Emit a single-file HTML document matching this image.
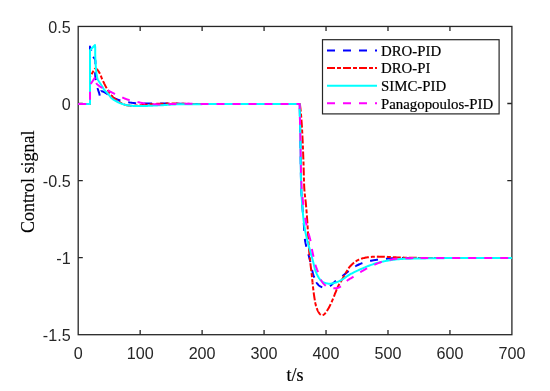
<!DOCTYPE html>
<html><head><meta charset="utf-8"><style>
html,body{margin:0;padding:0;background:#fff;}
svg{display:block;}
.tk{font-family:"Liberation Sans",Arial,sans-serif;font-size:15.7px;fill:#262626;}
.sf{font-family:"Liberation Serif","Times New Roman",serif;fill:#000;stroke:#000;stroke-width:0.18px;}
</style></head><body>
<svg width="550" height="391" viewBox="0 0 550 391">
<rect x="0" y="0" width="550" height="391" fill="#fff"/>
<g fill="none" stroke="#262626" stroke-width="1.3">
<rect x="78.2" y="26.45" width="433.70" height="308.25"/>
<path d="M140.16 334.70 V330.10 M140.16 26.45 V31.05 M202.11 334.70 V330.10 M202.11 26.45 V31.05 M264.07 334.70 V330.10 M264.07 26.45 V31.05 M326.03 334.70 V330.10 M326.03 26.45 V31.05 M387.99 334.70 V330.10 M387.99 26.45 V31.05 M449.94 334.70 V330.10 M449.94 26.45 V31.05 M78.20 103.51 H82.80 M511.90 103.51 H507.30 M78.20 180.57 H82.80 M511.90 180.57 H507.30 M78.20 257.64 H82.80 M511.90 257.64 H507.30"/>
</g>
<g fill="none" stroke-width="2" stroke-linejoin="round">
<path d="M78.20 104.00 L90.00 104.00 L90.00 46.60 L90.08 46.85 L90.17 47.10 L90.26 47.35" stroke="#0000ff" stroke-dasharray="8 8" stroke-dashoffset="0.00"/>
<path d="M90.26 47.35 L90.34 47.60 L90.43 47.85 L90.52 48.10 L90.60 48.35 L90.69 48.60 L90.77 48.85 L90.85 49.10 L90.93 49.35 L91.00 49.60 L91.07 49.85 L91.13 50.10 L91.19 50.35 L91.25 50.60 L91.31 50.85 L91.37 51.10 L91.42 51.36 L91.48 51.61 L91.53 51.86 L91.59 52.11 L91.64 52.35 L91.70 52.60 L91.76 52.84 L91.81 53.08 L91.86 53.32 L91.91 53.57 L91.96 53.81 L92.02 54.05 L92.07 54.29 L92.13 54.52 L92.19 54.75 L92.25 54.98" stroke="#0000ff" stroke-dasharray="8 8" stroke-dashoffset="4.49"/>
<path d="M92.25 54.98 L92.32 55.19 L92.40 55.40 L92.47 55.57 L92.54 55.73 L92.62 55.89 L92.70 56.05 L92.78 56.20 L92.86 56.35 L92.94 56.50 L93.03 56.64 L93.12 56.79 L93.21 56.93 L93.31 57.06 L93.40 57.20 L93.49 57.33 L93.59 57.45 L93.69 57.56 L93.80 57.67 L93.91 57.78 L94.02 57.89 L94.12 58.00 L94.23 58.11 L94.33 58.23 L94.43 58.35 L94.52 58.47 L94.60 58.60 L94.68 58.74 L94.76 58.88 L94.83 59.03 L94.90 59.18 L94.96 59.33 L95.02 59.48 L95.08 59.64 L95.13 59.80 L95.18 59.97 L95.22 60.14 L95.26 60.32 L95.30 60.50 L95.34 60.75 L95.37 61.01 L95.40 61.29 L95.41 61.57 L95.42 61.87 L95.43 62.16 L95.43 62.47 L95.42 62.77 L95.42 63.08 L95.41 63.39 L95.40 63.70 L95.40 64.00 L95.39 64.33 L95.38 64.66 L95.37 64.99 L95.35 65.33 L95.33 65.68 L95.31 66.02 L95.29 66.36 L95.27 66.70 L95.25 67.03 L95.23 67.36 L95.21 67.69 L95.20 68.00 L95.19 68.26 L95.18 68.52 L95.17 68.76 L95.15 69.00 L95.14 69.24 L95.13 69.48 L95.12 69.72 L95.11 69.96 L95.11 70.21 L95.10 70.46 L95.10 70.72 L95.10 71.00 L95.10 71.37 L95.11 71.76 L95.11 72.16 L95.12 72.57 L95.14 72.99 L95.15 73.42 L95.17 73.85 L95.19 74.29 L95.21 74.72 L95.24 75.15 L95.27 75.58 L95.30 76.00 L95.33 76.42 L95.37 76.83 L95.41 77.25 L95.45 77.67 L95.50 78.08 L95.55 78.50 L95.60 78.91 L95.65 79.33 L95.71 79.75 L95.77 80.16 L95.83 80.58 L95.90 81.00 L95.97 81.43 L96.05 81.87 L96.13 82.30 L96.22 82.74 L96.30 83.18 L96.40 83.62 L96.49 84.06 L96.59 84.49 L96.69 84.92 L96.79 85.35 L96.89 85.78 L97.00 86.20 L97.11 86.60 L97.22 87.00 L97.33 87.39 L97.45 87.79 L97.57 88.18 L97.69 88.57 L97.81 88.96 L97.94 89.34 L98.06 89.72 L98.18 90.09 L98.29 90.45 L98.40 90.80 L98.49 91.09 L98.58 91.37 L98.67 91.65 L98.76 91.92 L98.85 92.18 L98.93 92.45 L99.02 92.71 L99.10 92.97 L99.18 93.23 L99.26 93.48 L99.33 93.74 L99.40 94.00 L99.46 94.26 L99.52 94.54 L99.57 94.84 L99.63 95.15 L99.68 95.46 L99.73 95.76 L99.77 96.04 L99.82 96.29 L99.86 96.50 L99.91 96.66 L99.95 96.76 L100.00 96.80 L100.05 96.76 L100.09 96.66 L100.13 96.49 L100.18 96.28 L100.22 96.03 L100.26 95.75 L100.30 95.45" stroke="#0000ff" stroke-dasharray="8 8" stroke-dashoffset="13.88"/>
<path d="M100.30 95.45 L100.34 95.14 L100.38 94.83 L100.42 94.53 L100.46 94.25 L100.50 94.00 L100.53 93.76 L100.55 93.51 L100.55 93.25 L100.56 92.98 L100.56 92.71 L100.57 92.45 L100.58 92.20 L100.61 91.96 L100.65 91.75 L100.71 91.56 L100.79 91.41 L100.90 91.30 L101.03 91.23 L101.19 91.19 L101.36 91.18 L101.55 91.19 L101.76 91.22 L101.97 91.26 L102.19 91.32 L102.42 91.39 L102.65 91.47 L102.87 91.55 L103.09 91.62 L103.30 91.70 L103.54 91.79 L103.79 91.90 L104.03 92.02 L104.28 92.15 L104.53 92.29 L104.77 92.44 L105.02 92.60 L105.28 92.75 L105.53 92.92 L105.78 93.08 L106.04 93.24 L106.30 93.40 L106.60 93.58 L106.89 93.77 L107.19 93.97 L107.49 94.17 L107.80 94.37 L108.10 94.57" stroke="#0000ff" stroke-dasharray="8 8" stroke-dashoffset="11.83"/>
<path d="M108.10 94.57 L108.41 94.78 L108.72 94.99 L109.04 95.19 L109.35 95.40 L109.67 95.60 L110.00 95.80 L110.36 96.01 L110.71 96.23 L111.08 96.44 L111.45 96.66 L111.82 96.88 L112.19 97.09 L112.57 97.30 L112.95 97.51 L113.33 97.72 L113.72 97.92 L114.11 98.11 L114.50 98.30 L114.91 98.49 L115.33 98.68 L115.75 98.86 L116.18 99.04 L116.61 99.21 L117.04 99.38 L117.47 99.55 L117.90 99.71 L118.33 99.86 L118.76 100.01 L119.18 100.16 L119.60 100.30 L119.97 100.42 L120.35 100.54 L120.72 100.65 L121.08 100.76 L121.45 100.86 L121.81 100.96 L122.18 101.06 L122.54 101.15 L122.90 101.24 L123.27 101.33 L123.63 101.42 L124.00 101.50 L124.36 101.58 L124.72 101.66 L125.07 101.73 L125.42 101.80 L125.77 101.86 L126.13 101.93 L126.49 101.99 L126.85 102.05 L127.22 102.11 L127.60 102.18 L127.99 102.24 L128.40 102.30 L128.93 102.38 L129.49 102.46 L130.05 102.55 L130.63 102.63 L131.22 102.71 L131.83 102.79 L132.44 102.87 L133.06 102.94 L133.69 103.01 L134.32 103.08 L134.96 103.14 L135.60 103.20 L136.33 103.26 L137.07 103.31 L137.81 103.36 L138.56 103.40 L139.32 103.44 L140.08 103.47 L140.86 103.50 L141.66 103.53 L142.47 103.55 L143.29 103.57 L144.14 103.59 L145.00 103.60 L146.10 103.61 L147.21 103.61 L148.34 103.60 L149.47 103.58 L150.64 103.55 L151.83 103.52 L153.06 103.49 L154.34 103.46 L155.66 103.44 L157.04 103.42 L158.49 103.40 L160.00 103.40 L162.66 103.41 L165.55 103.44 L168.65 103.48 L171.91 103.54 L175.30 103.60 L178.80 103.67 L182.36 103.73 L185.95 103.80 L189.55 103.87 L193.11 103.92 L196.61 103.97 L200.00 104.00 L203.33 104.02 L206.67 104.03 L210.00 104.04 L213.33 104.04 L216.67 104.04 L220.00 104.04 L223.33 104.03 L226.67 104.02 L230.00 104.01 L233.33 104.01 L236.67 104.00 L240.00 104.00 L299.60 104.00 L299.65 106.13 L299.70 108.21 L299.75 110.25 L299.80 112.27 L299.85 114.29 L299.89 116.33 L299.94 118.41 L299.99 120.54 L300.04 122.75 L300.09 125.05 L300.15 127.46 L300.20 130.00 L300.28 134.25 L300.36 138.99 L300.43 144.12 L300.50 149.53 L300.58 155.10 L300.66 160.75 L300.74 166.35 L300.83 171.80 L300.93 177.00 L301.04 181.84 L301.16 186.20 L301.30 190.00 L301.38 191.79 L301.46 193.45 L301.54 195.02 L301.63 196.50 L301.72 197.91 L301.81 199.25 L301.91 200.56 L302.00 201.84 L302.10 203.11 L302.20 204.38 L302.30 205.67 L302.40 207.00 L302.49 208.22 L302.59 209.44 L302.70 210.65 L302.80 211.85 L302.91 213.05 L303.01 214.23" stroke="#0000ff" stroke-dasharray="8 8" stroke-dashoffset="10.27"/>
<path d="M303.01 214.23 L303.12 215.40 L303.22 216.56 L303.32 217.70 L303.42 218.82 L303.51 219.92 L303.60 221.00 L303.67 221.89 L303.73 222.77 L303.79 223.63 L303.85 224.48 L303.91 225.31 L303.97 226.14 L304.02 226.96 L304.07 227.77 L304.13 228.58 L304.18 229.38 L304.24 230.19 L304.30 231.00 L304.35 231.77 L304.40 232.54 L304.45 233.31 L304.50 234.08 L304.54 234.84 L304.59 235.60 L304.64 236.36 L304.70 237.11 L304.76 237.85 L304.83 238.57 L304.91 239.29 L305.00 240.00 L305.09 240.62 L305.19 241.22 L305.29 241.82 L305.39 242.41 L305.51 242.99 L305.62 243.56 L305.75 244.14 L305.87 244.71 L306.00 245.28 L306.13 245.85 L306.26 246.42 L306.40 247.00 L306.54 247.59 L306.69 248.17 L306.84 248.75 L307.00 249.34 L307.16 249.92 L307.33 250.50 L307.49 251.09 L307.66 251.67 L307.82 252.25 L307.98 252.83 L308.14 253.42 L308.30 254.00 L308.45 254.58 L308.61 255.17 L308.76 255.76 L308.92 256.35 L309.07 256.94 L309.22 257.53 L309.38 258.12 L309.53 258.70 L309.67 259.29 L309.82 259.86 L309.96 260.43 L310.10 261.00 L310.23 261.52 L310.35 262.03 L310.47 262.54 L310.59 263.04 L310.71 263.54 L310.82 264.04 L310.94 264.54 L311.05 265.04 L311.17 265.53 L311.28 266.02 L311.39 266.51 L311.50 267.00 L311.60 267.47 L311.70 267.93 L311.80 268.40 L311.89 268.86 L311.99 269.32 L312.08 269.78 L312.17 270.24 L312.27 270.70 L312.37 271.15 L312.47 271.60 L312.58 272.05 L312.70 272.50 L312.82 272.93 L312.94 273.35 L313.06 273.78 L313.19 274.20 L313.31 274.62 L313.45 275.03 L313.58 275.45 L313.72 275.86 L313.86 276.27 L314.00 276.68 L314.15 277.09 L314.30 277.50 L314.45 277.90 L314.60 278.31 L314.75 278.72 L314.90 279.13 L315.05 279.53" stroke="#0000ff" stroke-dasharray="8 8" stroke-dashoffset="7.37"/>
<path d="M315.05 279.53 L315.21 279.94 L315.37 280.33 L315.54 280.73 L315.72 281.11 L315.90 281.49 L316.10 281.85 L316.30 282.20 L316.49 282.51 L316.69 282.82 L316.90 283.13 L317.12 283.43 L317.33 283.72 L317.56 284.01 L317.79 284.28 L318.02 284.55 L318.26 284.81 L318.50 285.05 L318.75 285.28 L319.00 285.50 L319.22 285.68 L319.45 285.85 L319.68 286.01 L319.91 286.16 L320.15 286.31 L320.39 286.45 L320.63 286.57 L320.88 286.69 L321.13 286.81 L321.38 286.91 L321.64 287.01 L321.90 287.10 L322.18 287.19 L322.46 287.27 L322.75 287.35 L323.05 287.42 L323.35 287.48 L323.65 287.53 L323.96 287.57 L324.26 287.60 L324.57 287.62 L324.88 287.63 L325.19 287.62 L325.50 287.60 L325.84 287.56 L326.19 287.51 L326.53 287.44 L326.88 287.36 L327.23 287.26 L327.58 287.15 L327.94 287.03 L328.29 286.89 L328.64 286.74 L329.00 286.57 L329.35 286.39 L329.70 286.20 L330.14 285.93 L330.57 285.62 L331.00 285.28 L331.43 284.91 L331.85 284.52 L332.28 284.11 L332.72 283.69 L333.15 283.27 L333.60 282.84 L334.06 282.42 L334.52 282.00 L335.00 281.60 L335.58 281.14 L336.18 280.66 L336.81 280.18 L337.46 279.69 L338.12 279.19 L338.78 278.70 L339.43 278.22 L340.08 277.74 L340.70 277.28 L341.30 276.83 L341.87 276.40 L342.40 276.00 L342.74 275.74 L343.07 275.49 L343.38 275.25 L343.68 275.02 L343.96 274.79 L344.25 274.57 L344.53 274.36 L344.81 274.14 L345.09 273.92 L345.38 273.69 L345.68 273.45 L346.00 273.20 L346.39 272.89 L346.78 272.57 L347.19 272.24 L347.60 271.90 L348.02 271.55 L348.44 271.20 L348.86 270.86 L349.29 270.51 L349.72 270.17 L350.15 269.84 L350.57 269.51 L351.00 269.20 L351.41 268.91 L351.82 268.62 L352.22 268.34 L352.63 268.07 L353.04 267.79 L353.45 267.53 L353.86 267.26 L354.28 267.00 L354.70 266.75 L355.13 266.50 L355.56 266.25 L356.00 266.00 L356.47 265.74 L356.94 265.49 L357.42 265.24 L357.91 264.99 L358.39 264.75 L358.89 264.51 L359.39 264.28 L359.89 264.05 L360.41 263.83 L360.93 263.61 L361.46 263.40 L362.00 263.20 L362.62 262.98 L363.25 262.77 L363.90 262.56 L364.56 262.36 L365.23 262.17 L365.91 261.99 L366.59 261.81 L367.28 261.64 L367.96 261.47 L368.65 261.31 L369.33 261.15 L370.00 261.00 L370.66 260.85 L371.31 260.72 L371.96 260.59 L372.61 260.46 L373.26 260.34 L373.91 260.23 L374.57 260.11 L375.23 260.01 L375.91 259.90 L376.59 259.80 L377.29 259.70 L378.00 259.60 L378.85 259.49 L379.73 259.37 L380.62 259.27 L381.53 259.16 L382.45 259.06 L383.39 258.97 L384.32 258.88 L385.27 258.79 L386.21 258.71 L387.14 258.63 L388.08 258.56 L389.00 258.50 L389.91 258.44 L390.79 258.40 L391.67 258.36 L392.54 258.32 L393.42 258.29 L394.29 258.27 L395.18 258.24 L396.09 258.22 L397.02 258.21 L397.98 258.19 L398.97 258.17 L400.00 258.15 L401.45 258.12 L402.94 258.10 L404.49 258.08 L406.08 258.07 L407.71 258.05 L409.38 258.04 L411.08 258.03 L412.81 258.03 L414.58 258.02 L416.36 258.01 L418.17 258.01 L420.00 258.00 L422.29 257.99 L424.65 257.99 L427.07 257.99 L429.55 257.99 L432.07 257.99 L434.62 257.99 L437.19 257.99 L439.78 257.99 L442.36 258.00 L444.93 258.00 L447.48 258.00 L450.00 258.00 L511.90 258.00" stroke="#0000ff" stroke-dasharray="8 8" stroke-dashoffset="13.05"/>
<path d="M78.20 104.00 L90.00 104.00 L90.00 77.00 L94.60 68.90 L94.68 68.88 L94.77 68.86 L94.85 68.84 L94.93 68.81 L95.01 68.79 L95.10 68.76 L95.18 68.74 L95.26 68.72 L95.35 68.71 L95.43 68.70 L95.51 68.70 L95.60 68.70 L95.70 68.71 L95.80 68.73 L95.90 68.76 L96.00 68.79 L96.10 68.82 L96.20 68.86 L96.30 68.91 L96.40 68.96 L96.50 69.01 L96.60 69.07 L96.70 69.13 L96.80 69.20 L96.92 69.29 L97.04 69.40 L97.16 69.51 L97.28 69.63 L97.39 69.76 L97.51 69.89 L97.62 70.03 L97.74 70.18 L97.85 70.33 L97.97 70.48 L98.08 70.64 L98.20 70.80 L98.35 71.01 L98.50 71.23 L98.65 71.45 L98.81 71.69 L98.96 71.93 L99.11 72.18 L99.26 72.43 L99.41 72.69 L99.56 72.96 L99.71 73.23 L99.86 73.51 L100.00 73.80 L100.18 74.17 L100.35 74.56 L100.51 74.96 L100.68 75.38 L100.84 75.81 L101.01 76.24 L101.17 76.68 L101.33 77.12 L101.49 77.55 L101.66 77.98 L101.83 78.40 L102.00 78.80 L102.16 79.17 L102.32 79.53 L102.49 79.88 L102.66 80.24 L102.82 80.59 L102.99 80.93 L103.16 81.28 L103.33 81.62 L103.49 81.97 L103.66 82.31 L103.83 82.66 L104.00 83.00 L104.16 83.34 L104.33 83.68 L104.49 84.02 L104.66 84.35 L104.83 84.69 L104.99 85.03 L105.16 85.36 L105.32 85.69 L105.49 86.03 L105.66 86.35 L105.83 86.68 L106.00 87.00 L106.16 87.30 L106.33 87.60 L106.49 87.90 L106.65 88.20 L106.82 88.50 L106.99 88.79 L107.15 89.08 L107.32 89.37 L107.49 89.66 L107.66 89.94 L107.83 90.22 L108.00 90.50 L108.16 90.76 L108.32 91.02 L108.48 91.27 L108.64 91.53 L108.81 91.78 L108.97 92.03 L109.13 92.27 L109.30 92.52 L109.47 92.77 L109.64 93.01 L109.82 93.25 L110.00 93.50 L110.19 93.76 L110.39 94.01 L110.59 94.27 L110.79 94.53 L111.00 94.79 L111.21 95.04 L111.42 95.30 L111.64 95.55 L111.85 95.79 L112.07 96.03 L112.28 96.27 L112.50 96.50 L112.70 96.71 L112.90 96.91 L113.11 97.11 L113.31 97.31 L113.51 97.50 L113.72 97.69 L113.92 97.88 L114.13 98.07 L114.35 98.25 L114.56 98.43 L114.78 98.62 L115.00 98.80 L115.23 98.99 L115.47 99.18 L115.71 99.36 L115.95 99.55 L116.20 99.73 L116.44 99.91 L116.69 100.09 L116.95 100.27 L117.20 100.45 L117.47 100.63 L117.73 100.82 L118.00 101.00 L118.31 101.21 L118.63 101.43 L118.95 101.64 L119.28 101.86 L119.61 102.08 L119.95 102.30 L120.29 102.52 L120.63 102.73 L120.97 102.93 L121.31 103.13 L121.66 103.32 L122.00 103.50 L122.32 103.66 L122.65 103.82 L122.96 103.98 L123.28 104.13 L123.60 104.27 L123.93 104.41 L124.25 104.54 L124.59 104.67 L124.93 104.79 L125.27 104.90 L125.63 105.00 L126.00 105.10 L126.45 105.20 L126.91 105.29 L127.38 105.37 L127.87 105.44 L128.36 105.49 L128.86 105.54 L129.37 105.58 L129.88 105.62 L130.41 105.64 L130.93 105.67 L131.47 105.69 L132.00 105.70 L132.62 105.71 L133.26 105.71 L133.90 105.69 L134.55 105.67 L135.21 105.64 L135.87 105.60 L136.55 105.56 L137.23 105.51 L137.91 105.46 L138.60 105.41 L139.30 105.35 L140.00 105.30 L140.79 105.24 L141.58 105.16 L142.37 105.08 L143.18 105.00 L143.99 104.91 L144.80 104.81 L145.63 104.72 L146.47 104.63 L147.33 104.54 L148.20 104.45 L149.09 104.37 L150.00 104.30 L151.12 104.22 L152.25 104.14 L153.39 104.07 L154.54 104.00 L155.72 103.93 L156.92 103.87 L158.15 103.81 L159.42 103.76 L160.74 103.71 L162.10 103.67 L163.52 103.63 L165.00 103.60 L167.40 103.57 L169.96 103.57 L172.67 103.58 L175.50 103.62 L178.43 103.66 L181.44 103.71 L184.51 103.77 L187.62 103.83 L190.74 103.89 L193.86 103.94 L196.95 103.97 L200.00 104.00" stroke="#ff0000" stroke-dasharray="8 2 4 2" stroke-dashoffset="0.00"/>
<path d="M200.00 104.00 L203.24 104.02 L206.51 104.03 L209.81 104.03 L213.14 104.03 L216.48 104.03 L219.83 104.03 L223.20 104.02 L226.57 104.02 L229.94 104.01 L233.30 104.01 L236.66 104.00 L240.00 104.00 L299.90 104.00 L299.98 104.66 L300.05 105.30 L300.13 105.92 L300.20 106.55 L300.28 107.17 L300.35 107.80 L300.43 108.44 L300.50 109.09 L300.58 109.77 L300.65 110.48 L300.73 111.22 L300.80 112.00 L300.91 113.23 L301.02 114.53 L301.13 115.88 L301.25 117.30 L301.36 118.76 L301.47 120.26 L301.58 121.81 L301.69 123.39 L301.79 125.01 L301.90 126.65 L302.00 128.32 L302.10 130.00 L302.22 132.23 L302.34 134.56 L302.46 136.96 L302.58 139.43 L302.69 141.96 L302.80 144.52 L302.90 147.11 L303.00 149.72 L303.11 152.32 L303.21 154.91 L303.30 157.48 L303.40 160.00 L303.49 162.54 L303.57 165.14 L303.64 167.79 L303.71 170.46 L303.77 173.13 L303.83 175.78 L303.90 178.38 L303.98 180.92 L304.06 183.37 L304.16 185.72 L304.27 187.93 L304.40 190.00 L304.50 191.27 L304.60 192.46 L304.71 193.59 L304.83 194.67 L304.95 195.71 L305.07 196.73 L305.20 197.73 L305.32 198.74 L305.45 199.75 L305.57 200.79 L305.69 201.87 L305.80 203.00 L305.92 204.33 L306.05 205.68 L306.17 207.06 L306.29 208.45 L306.41 209.85 L306.53 211.27 L306.65 212.70 L306.76 214.15 L306.87 215.60 L306.99 217.06 L307.09 218.53 L307.20 220.00 L307.31 221.62 L307.42 223.27 L307.52 224.95 L307.62 226.65 L307.72 228.36 L307.82 230.08 L307.91 231.79 L308.01 233.49 L308.10 235.16 L308.20 236.81 L308.30 238.43 L308.40 240.00 L308.49 241.33 L308.58 242.65 L308.66 243.96 L308.75 245.25 L308.84 246.52 L308.93 247.78 L309.02 249.03 L309.11 250.25 L309.20 251.47 L309.30 252.66 L309.40 253.84 L309.50 255.00 L309.59 255.98 L309.69 256.94 L309.78 257.88 L309.88 258.81 L309.98 259.73 L310.08 260.64 L310.18 261.54 L310.29 262.44 L310.39 263.33 L310.49 264.22 L310.60 265.11 L310.70 266.00 L310.80 266.85 L310.90 267.69 L311.00 268.53 L311.10 269.37 L311.21 270.20 L311.31 271.03 L311.41 271.86 L311.51 272.68 L311.61 273.51 L311.71 274.34 L311.81 275.17 L311.90 276.00 L311.99 276.83 L312.07 277.66 L312.16 278.49 L312.24 279.32 L312.31 280.14 L312.39 280.97 L312.47 281.80 L312.55 282.63" stroke="#ff0000" stroke-dasharray="8 2 4 2" stroke-dashoffset="12.44"/>
<path d="M312.55 282.63 L312.63 283.47 L312.72 284.31 L312.81 285.15 L312.90 286.00 L313.00 286.90 L313.11 287.82 L313.21 288.74 L313.32 289.67 L313.43 290.60 L313.54 291.53 L313.66 292.46 L313.78 293.39 L313.90 294.31 L314.03 295.22 L314.16 296.12 L314.30 297.00 L314.43 297.81 L314.55 298.62 L314.68 299.43 L314.81 300.24 L314.94 301.03 L315.07 301.83 L315.21 302.61 L315.37 303.38 L315.53 304.13 L315.70 304.87 L315.89 305.60 L316.10 306.30 L316.29 306.90 L316.49 307.49 L316.69 308.08 L316.91 308.66 L317.13 309.24 L317.36 309.80 L317.59 310.34 L317.84 310.87 L318.09 311.37 L318.35 311.84 L318.62 312.29 L318.90 312.70 L319.11 312.99 L319.33 313.29 L319.55 313.58 L319.78 313.86 L320.01 314.13 L320.24 314.38 L320.48 314.61 L320.72 314.81 L320.97 314.99 L321.21 315.13 L321.45 315.24 L321.70 315.30 L321.92 315.32 L322.14 315.31 L322.36 315.27 L322.59 315.21 L322.82 315.13 L323.04 315.02 L323.27 314.90 L323.50 314.76 L323.73 314.61 L323.96 314.45 L324.18 314.28 L324.40 314.10 L324.72 313.82 L325.04 313.49 L325.36 313.13 L325.67 312.74 L325.98 312.32 L326.29 311.87 L326.60 311.41 L326.91 310.94 L327.21 310.45 L327.51 309.97 L327.81 309.48 L328.10 309.00 L328.43 308.45 L328.75 307.89 L329.07 307.31 L329.39 306.72 L329.70 306.12 L330.00 305.51 L330.31 304.89 L330.61 304.27 L330.91 303.63 L331.21 302.99 L331.50 302.35 L331.80 301.70 L332.12 300.97 L332.44 300.22 L332.76 299.46 L333.07 298.68 L333.38 297.89 L333.69 297.10 L334.00 296.30 L334.30 295.52 L334.60 294.74 L334.90 293.97 L335.20 293.23 L335.50 292.50 L335.76 291.88 L336.00 291.27 L336.24 290.67 L336.48 290.08 L336.72 289.49 L336.96 288.91 L337.20 288.33 L337.44 287.76 L337.69 287.19 L337.95 286.63 L338.22 286.06 L338.50 285.50 L338.79 284.94 L339.10 284.39 L339.42 283.84 L339.74 283.30 L340.07 282.76 L340.41 282.22 L340.75 281.69 L341.09 281.15 L341.42 280.62 L341.75 280.08 L342.08 279.54 L342.40 279.00 L342.71 278.46 L343.01 277.92 L343.31 277.37 L343.60 276.82 L343.89 276.28 L344.19 275.73 L344.48 275.18 L344.78 274.64 L345.07 274.10 L345.38 273.56 L345.68 273.03 L346.00 272.50 L346.31 271.98 L346.62 271.47 L346.93 270.95 L347.23 270.44 L347.54 269.93 L347.86 269.42 L348.18 268.92 L348.51 268.42 L348.86 267.93 L349.22 267.44 L349.60 266.97 L350.00 266.50 L350.46 266.00 L350.93 265.49 L351.43 264.99 L351.95 264.49 L352.48 264.00 L353.03 263.52 L353.58 263.05 L354.14 262.60 L354.71 262.17 L355.27 261.75 L355.84 261.36 L356.40 261.00 L356.90 260.70 L357.40 260.41 L357.90 260.14 L358.40 259.89 L358.90 259.66 L359.41 259.43 L359.92 259.22 L360.45 259.02 L360.99 258.83 L361.54 258.65 L362.11 258.47 L362.70 258.30 L363.45 258.10 L364.24 257.92 L365.06 257.75 L365.90 257.60 L366.75 257.46 L367.63 257.34 L368.51 257.22 L369.40 257.12 L370.28 257.03 L371.17 256.95 L372.04 256.87 L372.90 256.80 L373.75 256.74 L374.59 256.70 L375.43 256.66 L376.28 256.64 L377.12 256.63 L377.96 256.62 L378.81 256.63 L379.66 256.63 L380.51 256.65 L381.37 256.66 L382.23 256.68 L383.10 256.70 L384.02 256.73 L384.94 256.76 L385.86 256.80 L386.79 256.85 L387.72 256.91 L388.65 256.97 L389.59 257.03 L390.55 257.09 L391.51 257.15 L392.49 257.20 L393.49 257.25 L394.50 257.30 L395.70 257.35 L396.92 257.39 L398.16 257.44 L399.42 257.48 L400.69 257.52 L401.98 257.56 L403.28 257.59 L404.60 257.63 L405.93 257.66 L407.27 257.69 L408.63 257.72 L410.00 257.75 L411.56 257.78 L413.14 257.81 L414.73 257.84 L416.33 257.86 L417.95 257.89 L419.59 257.91 L421.25 257.93 L422.94 257.94 L424.66 257.96 L426.40 257.97 L428.18 257.99 L430.00 258.00 L432.29 258.01 L434.65 258.02 L437.07 258.02 L439.55 258.02 L442.07 258.02 L444.62 258.02 L447.19 258.02 L449.78 258.01 L452.36 258.01 L454.93 258.00 L457.48 258.00 L460.00 258.00 L511.90 258.00" stroke="#ff0000" stroke-dasharray="8 2 4 2" stroke-dashoffset="6.18"/>
<path d="M78.20 104.00 L90.00 104.00 L90.00 50.20 L95.00 45.00 L95.02 45.25 L95.04 45.49 L95.05 45.73 L95.07 45.96 L95.09 46.20 L95.11 46.44 L95.13 46.68 L95.15 46.92 L95.16 47.18 L95.18 47.44 L95.19 47.71 L95.20 48.00 L95.21 48.43 L95.22 48.87 L95.22 49.33 L95.22 49.82 L95.21 50.31 L95.21 50.82 L95.20 51.33 L95.19 51.86 L95.19 52.39 L95.19 52.93 L95.19 53.46 L95.20 54.00 L95.21 54.63 L95.23 55.27 L95.25 55.92 L95.27 56.58 L95.29 57.25 L95.31 57.93 L95.34 58.61 L95.37 59.29 L95.40 59.97 L95.43 60.65 L95.46 61.33 L95.50 62.00 L95.54 62.67 L95.58 63.35 L95.62 64.03 L95.67 64.71 L95.71 65.39 L95.76 66.07 L95.81 66.75 L95.86 67.42 L95.92 68.08 L95.98 68.73 L96.04 69.37 L96.10 70.00 L96.16 70.54 L96.21 71.07 L96.27 71.59 L96.32 72.11 L96.38 72.63 L96.44 73.14 L96.50 73.64 L96.57 74.13 L96.64 74.61 L96.72 75.09 L96.81 75.55 L96.90 76.00 L96.98 76.37 L97.06 76.73 L97.15 77.09 L97.24 77.44 L97.33 77.79 L97.43 78.13 L97.53 78.46 L97.63 78.79 L97.74 79.10 L97.85 79.41 L97.97 79.71 L98.10 80.00 L98.21 80.23 L98.32 80.44 L98.43 80.64 L98.55 80.84 L98.67 81.03 L98.80 81.21 L98.92 81.40 L99.05 81.59 L99.19 81.78 L99.32 81.98 L99.46 82.18 L99.60 82.40 L99.79 82.69 L99.98 83.00 L100.18 83.31 L100.39 83.64 L100.60 83.97 L100.82 84.30 L101.04 84.64 L101.26 84.98 L101.47 85.32 L101.69 85.65 L101.90 85.98 L102.10 86.30 L102.29 86.60 L102.47 86.90 L102.65 87.20 L102.83 87.51 L103.01 87.81 L103.18 88.11 L103.36 88.40 L103.54 88.69 L103.72 88.98 L103.91 89.26 L104.10 89.53 L104.30 89.80 L104.49 90.04 L104.68 90.27 L104.88 90.49 L105.08 90.71 L105.28 90.93 L105.48 91.14 L105.69 91.35 L105.89 91.55 L106.10 91.76 L106.30 91.97 L106.50 92.18 L106.70 92.40 L106.89 92.62 L107.09 92.83 L107.28 93.04 L107.48 93.26 L107.67 93.47 L107.86 93.69 L108.05 93.90 L108.24 94.12 L108.43 94.34 L108.62 94.55 L108.81 94.78 L109.00 95.00 L109.19 95.23 L109.37 95.47 L109.55 95.71 L109.72 95.96 L109.90 96.20 L110.07 96.45 L110.25 96.70 L110.44 96.94 L110.63 97.19 L110.84 97.43 L111.06 97.67 L111.30 97.90 L111.62 98.19 L111.96 98.48 L112.32 98.77 L112.69 99.06 L113.09 99.35 L113.49 99.63 L113.90 99.91 L114.32 100.18 L114.74 100.45 L115.16 100.71 L115.58 100.96 L116.00 101.20 L116.42 101.44 L116.85 101.66 L117.29 101.89 L117.73 102.10 L118.18 102.31 L118.63 102.51 L119.08 102.71 L119.53 102.90 L119.97 103.09 L120.42 103.26 L120.86 103.43 L121.30 103.60 L121.70 103.75 L122.08 103.89 L122.47 104.02 L122.85 104.15 L123.24 104.27 L123.62 104.39 L124.00 104.50 L124.39 104.61 L124.78 104.71 L125.18 104.81 L125.59 104.91 L126.00 105.00 L126.47 105.10 L126.95 105.19 L127.44 105.27 L127.93 105.34 L128.43 105.42 L128.93 105.48 L129.44 105.54 L129.95 105.60 L130.46 105.65 L130.98 105.70 L131.49 105.75 L132.00 105.80 L132.53 105.85 L133.07 105.89 L133.60 105.92 L134.15 105.95 L134.69 105.98 L135.23 106.01 L135.78 106.03 L136.32 106.05 L136.87 106.07 L137.41 106.08 L137.96 106.09 L138.50 106.10 L139.04 106.11 L139.57 106.11 L140.09 106.11 L140.61 106.11 L141.14 106.10 L141.66 106.09 L142.19 106.08 L142.73 106.07 L143.28 106.05 L143.84 106.04 L144.41 106.02 L145.00 106.00 L145.76 105.97 L146.55 105.94 L147.36 105.90 L148.19 105.86 L149.04 105.82 L149.90 105.77 L150.76 105.72 L151.63 105.68 L152.49 105.63 L153.34 105.58 L154.18 105.54 L155.00 105.50 L155.76 105.46 L156.52 105.43 L157.26 105.40 L158.00 105.37 L158.74 105.34 L159.47 105.31 L160.21 105.28 L160.95 105.25 L161.70 105.21 L162.45 105.18 L163.22 105.14 L164.00 105.10 L164.87 105.05 L165.75 104.99 L166.63 104.93 L167.52 104.87 L168.42 104.80 L169.32 104.73 L170.24 104.67 L171.17 104.60 L172.10 104.54 L173.05 104.49 L174.02 104.44 L175.00 104.40 L176.16 104.36 L177.34 104.34 L178.54 104.32 L179.75 104.31 L180.98 104.31 L182.22 104.31 L183.48 104.31 L184.75 104.31 L186.04 104.31 L187.35 104.31 L188.67 104.31 L190.00 104.30 L191.55 104.28 L193.12 104.26 L194.70 104.24 L196.30 104.22 L197.93 104.20 L199.57 104.17 L201.23 104.15 L202.93 104.12 L204.65 104.10 L206.40 104.08 L208.18 104.06 L210.00 104.05 L212.29 104.04 L214.65 104.03 L217.07 104.02 L219.55 104.01 L222.07 104.01 L224.62 104.01 L227.19 104.01 L229.78 104.01 L232.36 104.01 L234.93 104.01 L237.48 104.00 L240.00 104.00 L299.60 104.00 L299.65 106.13 L299.70 108.21 L299.75 110.25 L299.80 112.27 L299.85 114.29 L299.89 116.33 L299.94 118.41 L299.99 120.54 L300.04 122.75 L300.09 125.05 L300.15 127.46 L300.20 130.00 L300.28 134.25 L300.36 138.99 L300.43 144.12 L300.50 149.53 L300.58 155.10 L300.66 160.75 L300.74 166.35 L300.83 171.80 L300.93 177.00 L301.04 181.84 L301.16 186.20 L301.30 190.00 L301.38 191.79 L301.46 193.45 L301.54 195.02 L301.63 196.50 L301.72 197.91 L301.81 199.25 L301.90 200.56 L301.99 201.84 L302.09 203.11 L302.19 204.38 L302.30 205.67 L302.40 207.00 L302.50 208.22 L302.59 209.43 L302.69 210.64 L302.79 211.83 L302.89 213.02 L302.99 214.19 L303.10 215.36 L303.21 216.51 L303.32 217.65 L303.44 218.78 L303.57 219.90 L303.70 221.00 L303.82 221.97 L303.95 222.92 L304.07 223.86 L304.20 224.79 L304.34 225.71 L304.47 226.62 L304.62 227.53 L304.76 228.43 L304.91 229.32 L305.07 230.22 L305.23 231.11 L305.40 232.00 L305.57 232.86 L305.74 233.71 L305.93 234.57 L306.11 235.42 L306.30 236.26 L306.50 237.11 L306.70 237.94 L306.90 238.77 L307.10 239.59 L307.30 240.41 L307.50 241.21 L307.70 242.00 L307.88 242.70 L308.06 243.39 L308.24 244.07 L308.42 244.74 L308.61 245.40 L308.79 246.06 L308.98 246.71 L309.16 247.37 L309.35 248.02 L309.53 248.68 L309.72 249.34 L309.90 250.00 L310.08 250.67 L310.27 251.35 L310.46 252.03 L310.65 252.71 L310.84 253.39 L311.02 254.07 L311.21 254.75 L311.39 255.42 L311.58 256.08 L311.76 256.73 L311.93 257.37 L312.10 258.00 L312.24 258.53 L312.38 259.05 L312.52 259.56 L312.66 260.06 L312.79 260.56 L312.92 261.05 L313.05 261.54 L313.18 262.03 L313.31 262.52 L313.44 263.01 L313.57 263.50 L313.70 264.00 L313.83 264.50 L313.95 265.01 L314.06 265.52 L314.18 266.02 L314.29 266.53 L314.41 267.04 L314.53 267.55 L314.65 268.05 L314.77 268.55 L314.91 269.04 L315.05 269.52 L315.20 270.00 L315.35 270.44 L315.51 270.88 L315.67 271.31 L315.84 271.74 L316.01 272.16 L316.18 272.58 L316.36 273.00 L316.54 273.41 L316.73 273.81 L316.92 274.21 L317.11 274.61 L317.30 275.00 L317.48 275.36 L317.65 275.71 L317.83 276.07 L318.01 276.42 L318.20 276.77 L318.38 277.11 L318.57 277.45 L318.77 277.78 L318.97 278.10 L319.17 278.41 L319.38 278.71 L319.60 279.00 L319.80 279.25 L320.01 279.50 L320.22 279.74 L320.44 279.98 L320.66 280.21 L320.89 280.43 L321.11 280.65 L321.35 280.85 L321.58 281.05 L321.82 281.24 L322.06 281.43 L322.30 281.60 L322.53 281.75 L322.76 281.90 L323.00 282.04 L323.24 282.17 L323.48 282.29 L323.72 282.41 L323.97 282.52 L324.21 282.63 L324.46 282.73 L324.71 282.82 L324.95 282.91 L325.20 283.00 L325.43 283.08 L325.66 283.15 L325.90 283.21 L326.13 283.27 L326.37 283.33 L326.60 283.38 L326.84 283.42 L327.07 283.46 L327.31 283.50 L327.54 283.54 L327.77 283.57 L328.00 283.60 L328.21 283.63 L328.41 283.65 L328.61 283.67 L328.81 283.69 L329.00 283.71 L329.20 283.72 L329.40 283.73 L329.60 283.74 L329.81 283.74 L330.03 283.73 L330.26 283.72 L330.50 283.70 L330.88 283.66 L331.29 283.61 L331.72 283.55 L332.17 283.47 L332.63 283.39 L333.11 283.29 L333.59 283.19 L334.08 283.07 L334.56 282.94 L335.05 282.80 L335.53 282.66 L336.00 282.50 L336.53 282.31 L337.06 282.10 L337.60 281.87 L338.14 281.63 L338.68 281.38 L339.23 281.12 L339.77 280.84 L340.31 280.56 L340.84 280.28 L341.37 279.98 L341.89 279.69 L342.40 279.40 L342.89 279.11 L343.37 278.80 L343.85 278.49 L344.32 278.16 L344.79 277.83 L345.25 277.50 L345.71 277.17 L346.17 276.84 L346.63 276.51 L347.08 276.20 L347.54 275.89 L348.00 275.60 L348.42 275.34 L348.82 275.10 L349.22 274.86 L349.61 274.63 L350.00 274.41 L350.40 274.18 L350.80 273.96 L351.21 273.74 L351.63 273.51 L352.07 273.28 L352.52 273.05 L353.00 272.80 L353.69 272.45 L354.43 272.09 L355.19 271.71 L355.99 271.33 L356.81 270.95 L357.65 270.56 L358.50 270.17 L359.35 269.78 L360.20 269.39 L361.05 269.02 L361.88 268.65 L362.70 268.30 L363.48 267.97 L364.25 267.64 L365.02 267.31 L365.79 266.98 L366.56 266.67 L367.33 266.35 L368.10 266.04 L368.87 265.74 L369.65 265.45 L370.43 265.16 L371.21 264.87 L372.00 264.60 L372.80 264.33 L373.61 264.07 L374.42 263.81 L375.24 263.56 L376.06 263.31 L376.88 263.08 L377.70 262.84 L378.52 262.62 L379.35 262.40 L380.17 262.19 L380.99 261.99 L381.80 261.80 L382.59 261.62 L383.37 261.45 L384.15 261.29 L384.93 261.14 L385.71 260.99 L386.49 260.85 L387.27 260.71 L388.06 260.58 L388.84 260.46 L389.62 260.34 L390.41 260.22 L391.20 260.10 L391.99 259.98 L392.77 259.87 L393.53 259.77 L394.30 259.66 L395.06 259.57 L395.83 259.47 L396.61 259.38 L397.42 259.30 L398.24 259.22 L399.09 259.14 L399.98 259.07 L400.90 259.00 L402.26 258.92 L403.70 258.84 L405.20 258.79 L406.76 258.74 L408.36 258.70 L409.99 258.66 L411.65 258.64 L413.33 258.61 L415.01 258.59 L416.69 258.56 L418.36 258.53 L420.00 258.50 L421.70 258.46 L423.40 258.43 L425.10 258.40 L426.80 258.36 L428.51 258.33 L430.23 258.30 L431.96 258.27 L433.71 258.24 L435.49 258.22 L437.29 258.19 L439.13 258.17 L441.00 258.15 L443.25 258.13 L445.56 258.11 L447.92 258.09 L450.32 258.08 L452.75 258.07 L455.21 258.06 L457.68 258.05 L460.16 258.04 L462.64 258.03 L465.11 258.02 L467.57 258.01 L470.00 258.00 L511.90 258.00" stroke="#00ffff"/>
<path d="M78.20 104.00 L90.00 104.00 L90.00 85.00 L95.20 77.30 L95.23 77.40 L95.25 77.49 L95.28 77.59 L95.30 77.68 L95.33 77.77 L95.35 77.87 L95.38 77.96 L95.40 78.06 L95.43 78.16 L95.45 78.27 L95.48 78.38 L95.50 78.50" stroke="#ff00ff" stroke-dasharray="8 8" stroke-dashoffset="0.00"/>
<path d="M95.50 78.50 L95.53 78.70 L95.57 78.93 L95.60 79.17 L95.62 79.42 L95.65 79.68 L95.68 79.95 L95.71 80.22 L95.74 80.49 L95.77 80.76 L95.81 81.02 L95.85 81.27 L95.90 81.50 L95.94 81.69 L95.99 81.88 L96.03 82.07 L96.07 82.25 L96.12 82.43 L96.17 82.60 L96.22 82.78 L96.28 82.95 L96.35 83.12 L96.42 83.28 L96.51 83.44 L96.60 83.60 L96.72 83.77 L96.84 83.93 L96.98 84.09 L97.13 84.24 L97.29 84.39 L97.45 84.54 L97.62 84.69 L97.79 84.83 L97.97 84.97 L98.15 85.11 L98.32 85.26 L98.50 85.40 L98.69 85.56 L98.89 85.71 L99.08 85.87 L99.29 86.03 L99.49 86.18 L99.70 86.34 L99.91 86.49 L100.12 86.64 L100.34 86.78 L100.56 86.93 L100.78 87.07 L101.00 87.20 L101.23 87.33 L101.47 87.46 L101.72 87.58 L101.96 87.70 L102.21 87.82 L102.46 87.93 L102.71 88.04 L102.97 88.15 L103.23 88.26 L103.48 88.37 L103.74 88.48 L104.00 88.60" stroke="#ff00ff" stroke-dasharray="8 8" stroke-dashoffset="11.42"/>
<path d="M104.00 88.60 L104.28 88.72 L104.55 88.85 L104.83 88.97 L105.12 89.09 L105.40 89.21 L105.68 89.33 L105.97 89.45 L106.26 89.58 L106.54 89.70 L106.83 89.83 L107.11 89.96 L107.40 90.10 L107.70 90.25 L108.00 90.40 L108.30 90.55 L108.60 90.71 L108.90 90.87 L109.20 91.03 L109.50 91.20 L109.80 91.36 L110.10 91.52 L110.40 91.68 L110.70 91.84 L111.00 92.00 L111.29 92.15 L111.59 92.30 L111.88 92.46 L112.17 92.61 L112.46 92.76 L112.75 92.91 L113.04 93.06 L113.33 93.21 L113.62 93.36 L113.92 93.51 L114.21 93.65 L114.50 93.80 L114.79 93.94 L115.08 94.09 L115.37 94.23 L115.66 94.37 L115.94 94.51 L116.23 94.66 L116.52 94.80 L116.81 94.94 L117.11 95.08 L117.40 95.22 L117.70 95.36 L118.00 95.50 L118.32 95.65 L118.65 95.80 L118.98 95.95 L119.31 96.10 L119.65 96.26 L119.98 96.41 L120.32 96.56 L120.65 96.71 L120.99 96.86 L121.33 97.01 L121.67 97.15 L122.00 97.30 L122.33 97.45 L122.66 97.59 L123.00 97.74 L123.33 97.89 L123.66 98.03 L123.99 98.18 L124.33 98.32 L124.66 98.46 L124.99 98.60 L125.33 98.74 L125.66 98.87 L126.00 99.00 L126.33 99.12 L126.65 99.24 L126.97 99.35 L127.28 99.46 L127.60 99.57 L127.92 99.68 L128.25 99.78 L128.58 99.89 L128.92 99.99 L129.26 100.09 L129.63 100.20 L130.00 100.30 L130.51 100.44 L131.04 100.57 L131.60 100.71 L132.17 100.85 L132.75 100.98 L133.34 101.11 L133.95 101.25 L134.56 101.38 L135.17 101.51 L135.78 101.64 L136.39 101.77 L137.00 101.90 L137.65 102.04 L138.30 102.18 L138.96 102.33 L139.62 102.47 L140.29 102.62 L140.96 102.76 L141.63 102.90 L142.31 103.04 L142.98 103.17 L143.66 103.29 L144.33 103.40 L145.00 103.50 L145.67 103.59 L146.34 103.67 L147.01 103.75 L147.68 103.82 L148.36 103.88 L149.03 103.94 L149.70 103.99 L150.37 104.04" stroke="#ff00ff" stroke-dasharray="8 8" stroke-dashoffset="11.73"/>
<path d="M150.37 104.04 L151.04 104.08 L151.70 104.12 L152.35 104.16 L153.00 104.20 L153.60 104.23 L154.18 104.26 L154.75 104.29 L155.32 104.31 L155.89 104.34 L156.45 104.35 L157.02 104.37 L157.59 104.38 L158.17 104.39 L158.77 104.40 L159.37 104.40 L160.00 104.40 L160.76 104.40 L161.54 104.38 L162.33 104.37 L163.13 104.34 L163.94 104.32 L164.76 104.29 L165.60 104.26 L166.45 104.22 L167.32 104.19 L168.20 104.16 L169.09 104.13 L170.00 104.10 L171.13 104.07 L172.28 104.03 L173.45 103.99 L174.63 103.95 L175.84 103.91 L177.07 103.87 L178.33 103.83 L179.61 103.79 L180.91 103.76 L182.24 103.74 L183.61 103.71 L185.00 103.70 L186.85 103.69 L188.77 103.70 L190.75 103.72 L192.78 103.74 L194.85 103.77 L196.96 103.81 L199.10 103.85 L201.26 103.89 L203.44 103.92 L205.63 103.96 L207.82 103.98 L210.00 104.00 L212.40 104.01 L214.84 104.02 L217.31 104.02 L219.80 104.03 L222.31 104.02 L224.83 104.02 L227.36 104.02 L229.90 104.01 L232.44 104.01 L234.97 104.00 L237.49 104.00 L240.00 104.00 L299.60 104.00 L299.65 106.14 L299.70 108.22 L299.74 110.27 L299.79 112.31 L299.84 114.35 L299.89 116.40 L299.93 118.48 L299.98 120.62 L300.03 122.82 L300.09 125.11 L300.14 127.50 L300.20 130.00 L300.29 133.99 L300.37 138.43 L300.46 143.21 L300.55 148.23 L300.64 153.40 L300.74 158.61 L300.84 163.75 L300.95 168.73 L301.07 173.45 L301.20 177.80 L301.34 181.68 L301.50 185.00 L301.58 186.40 L301.66 187.70 L301.75 188.90 L301.83 190.02 L301.92 191.08 L302.01 192.10 L302.10 193.08 L302.20 194.04 L302.29 195.00 L302.39 195.97 L302.49 196.96 L302.60 198.00 L302.70 199.02 L302.81 200.03 L302.91 201.04 L303.02 202.04 L303.13 203.04 L303.25 204.03 L303.36 205.03 L303.48 206.02 L303.61 207.01 L303.73 208.01 L303.86 209.00 L304.00 210.00 L304.14 211.00" stroke="#ff00ff" stroke-dasharray="8 8" stroke-dashoffset="13.85"/>
<path d="M304.14 211.00 L304.28 212.02 L304.43 213.03 L304.57 214.05 L304.72 215.06 L304.88 216.07 L305.04 217.08 L305.20 218.09 L305.37 219.08 L305.54 220.07 L305.72 221.04 L305.90 222.00 L306.07 222.87 L306.25 223.74 L306.44 224.60 L306.63 225.45 L306.82 226.29 L307.01 227.13 L307.21 227.96 L307.41 228.79 L307.61 229.60 L307.81 230.41 L308.01 231.21 L308.20 232.00 L308.38 232.70 L308.55 233.38 L308.73 234.04 L308.91 234.70 L309.10 235.35 L309.28 236.00 L309.46 236.64 L309.63 237.30 L309.81 237.95 L309.98 238.62 L310.14 239.30 L310.30 240.00 L310.47 240.80 L310.63 241.61 L310.79 242.44 L310.94 243.29 L311.08 244.14 L311.23 245.00 L311.37 245.85 L311.51 246.71 L311.66 247.55 L311.80 248.39 L311.95 249.20 L312.10 250.00 L312.24 250.70 L312.38 251.40 L312.52 252.08 L312.66 252.77 L312.80 253.44 L312.95 254.11 L313.09 254.77 L313.23 255.43 L313.38 256.08 L313.52 256.73 L313.66 257.37 L313.80 258.00 L313.92 258.57 L314.04 259.12 L314.16 259.68 L314.27 260.22 L314.39 260.76 L314.50 261.30 L314.62 261.83 L314.75 262.37 L314.87 262.90 L315.01 263.43 L315.15 263.96 L315.30 264.50 L315.46 265.04 L315.64 265.58 L315.82 266.12 L316.00 266.66 L316.19 267.19 L316.39 267.73 L316.59 268.26 L316.79 268.80 L316.99 269.35 L317.20 269.89 L317.40 270.44 L317.60 271.00 L317.82 271.61 L318.03 272.25 L318.25 272.89 L318.46 273.55 L318.68 274.20 L318.90 274.86 L319.13 275.51 L319.35 276.15 L319.58 276.77 L319.82 277.38 L320.06 277.95 L320.30 278.50 L320.49 278.91 L320.69 279.31 L320.89 279.70 L321.08 280.09 L321.28 280.46 L321.49 280.82 L321.69 281.17 L321.90 281.51 L322.12 281.84 L322.34 282.17 L322.57 282.49 L322.80 282.80 L323.01 283.07 L323.23 283.33 L323.44 283.59 L323.66 283.84 L323.88 284.08 L324.11 284.32 L324.34 284.55 L324.58 284.77 L324.82 284.99 L325.07 285.20 L325.33 285.40 L325.60 285.60 L325.89 285.80 L326.19 285.99 L326.49 286.18 L326.81 286.35 L327.13 286.52 L327.46 286.69 L327.79 286.84 L328.13 286.99 L328.47 287.13 L328.81 287.26 L329.16 287.38 L329.50 287.50 L329.86 287.61 L330.22 287.72 L330.60 287.81 L330.97 287.90 L331.35 287.99 L331.73 288.06 L332.12 288.12 L332.50 288.18 L332.88 288.22 L333.26 288.26 L333.63 288.29 L334.00 288.30 L334.34 288.30 L334.69 288.30 L335.03 288.29 L335.38 288.27 L335.72 288.24 L336.06 288.20 L336.40 288.15 L336.73 288.10 L337.06 288.04 L337.38 287.97 L337.69 287.89 L338.00 287.80 L338.27 287.71 L338.53 287.62 L338.79 287.51 L339.04 287.40 L339.29 287.28 L339.53 287.15 L339.78 287.02 L340.02 286.89 L340.26 286.75 L340.50 286.60 L340.75 286.45 L341.00 286.30 L341.29 286.12 L341.58 285.94 L341.88 285.75 L342.17 285.56 L342.47 285.36 L342.77 285.15 L343.07 284.94 L343.36 284.73 L343.65 284.50 L343.94 284.27 L344.22 284.04 L344.50 283.80 L344.78 283.54 L345.05 283.26 L345.31 282.97 L345.57 282.67 L345.82 282.36 L346.07 282.05 L346.32 281.74 L346.58 281.44 L346.85 281.13 L347.12 280.84 L347.40 280.56 L347.70 280.30 L348.02 280.04 L348.36 279.80 L348.70 279.57 L349.05 279.34 L349.41 279.12 L349.77 278.91 L350.14 278.70 L350.51 278.49 L350.88 278.28 L351.25 278.06 L351.63 277.83 L352.00 277.60 L352.40 277.34 L352.81 277.07 L353.21 276.80 L353.62 276.53 L354.03 276.26 L354.45 275.98 L354.86 275.70 L355.28 275.42 L355.71 275.14 L356.13 274.86 L356.56 274.58 L357.00 274.30 L357.48 274.00 L357.96 273.69 L358.44 273.38 L358.93 273.07 L359.43 272.76 L359.93 272.45 L360.43 272.14 L360.94 271.83 L361.45 271.52 L361.96 271.21 L362.48 270.90 L363.00 270.60 L363.56 270.28 L364.13 269.95 L364.70 269.63 L365.28 269.30 L365.86 268.98 L366.45 268.66 L367.04 268.34 L367.63 268.02 L368.22 267.71 L368.82 267.40 L369.41 267.10 L370.00 266.80 L370.59 266.51 L371.17 266.23 L371.76 265.94 L372.35 265.67 L372.94 265.39 L373.54 265.12 L374.13 264.85 L374.72 264.59 L375.32 264.34 L375.91 264.08 L376.51 263.84 L377.10 263.60 L377.67 263.37 L378.25 263.15 L378.82 262.93 L379.39 262.72 L379.97 262.51 L380.54 262.31 L381.11 262.11 L381.69 261.92 L382.26 261.73 L382.84 261.55 L383.42 261.37 L384.00 261.20 L384.58 261.04 L385.16 260.88 L385.75 260.73 L386.34 260.59 L386.93 260.45 L387.52 260.32 L388.11 260.19 L388.70 260.06 L389.28 259.94 L389.86 259.83 L390.43 259.71 L391.00 259.60 L391.51 259.50 L392.02 259.40 L392.52 259.30 L393.02 259.21 L393.52 259.11 L394.01 259.03 L394.50 258.94 L394.99 258.86 L395.49 258.79 L395.99 258.72 L396.49 258.66 L397.00 258.60 L397.53 258.55 L398.05 258.51 L398.58 258.48 L399.11 258.46 L399.64 258.44 L400.17 258.42 L400.70 258.41 L401.25 258.40 L401.80 258.39 L402.35 258.38 L402.92 258.37 L403.50 258.35 L404.18 258.33 L404.87 258.30 L405.56 258.28 L406.25 258.26 L406.96 258.24 L407.67 258.21 L408.41 258.19 L409.16 258.17 L409.93 258.15 L410.73 258.13 L411.55 258.12 L412.40 258.10 L413.64 258.08 L414.94 258.07 L416.27 258.05 L417.65 258.04 L419.08 258.03 L420.54 258.03" stroke="#ff00ff" stroke-dasharray="8 8" stroke-dashoffset="9.19"/>
<path d="M420.54 258.03 L422.03 258.02 L423.57 258.02 L425.13 258.01 L426.73 258.01 L428.35 258.00 L430.00 258.00 L432.22 257.99 L434.54 257.99 L436.94 257.99 L439.41 257.99 L441.94 257.99 L444.50 257.99 L447.10 257.99 L449.71 257.99 L452.31 258.00 L454.91 258.00 L457.47 258.00 L460.00 258.00 L511.90 258.00" stroke="#ff00ff" stroke-dasharray="8 8" stroke-dashoffset="0.34"/>
</g>
<g class="tk"><text transform="translate(78.20,358.5) scale(1.030,1)" text-anchor="middle">0</text><text transform="translate(140.16,358.5) scale(1.030,1)" text-anchor="middle">100</text><text transform="translate(202.11,358.5) scale(1.030,1)" text-anchor="middle">200</text><text transform="translate(264.07,358.5) scale(1.030,1)" text-anchor="middle">300</text><text transform="translate(326.03,358.5) scale(1.030,1)" text-anchor="middle">400</text><text transform="translate(387.99,358.5) scale(1.030,1)" text-anchor="middle">500</text><text transform="translate(449.94,358.5) scale(1.030,1)" text-anchor="middle">600</text><text transform="translate(511.90,358.5) scale(1.030,1)" text-anchor="middle">700</text><text transform="translate(70.7,32.85) scale(1.030,1)" text-anchor="end">0.5</text><text transform="translate(70.7,109.91) scale(1.030,1)" text-anchor="end">0</text><text transform="translate(70.7,186.97) scale(1.030,1)" text-anchor="end">-0.5</text><text transform="translate(70.7,264.04) scale(1.030,1)" text-anchor="end">-1</text><text transform="translate(70.7,341.10) scale(1.030,1)" text-anchor="end">-1.5</text></g>
<text class="sf" x="286.5" y="380.6" font-size="18">t/s</text>
<text class="sf" transform="translate(34.0,181.8) rotate(-90)" text-anchor="middle" font-size="18">Control signal</text>
<g>
<rect x="322.5" y="39.7" width="176.6" height="74.2" fill="#fff" stroke="#262626" stroke-width="1.2"/>
<g fill="none" stroke-width="2">
<path d="M327 50.4 H377" stroke="#0000ff" stroke-dasharray="8 8"/>
<path d="M327 68 H377" stroke="#ff0000" stroke-dasharray="8 2 4 2"/>
<path d="M327 85.7 H377" stroke="#00ffff"/>
<path d="M327 103.2 H377" stroke="#ff00ff" stroke-dasharray="8 8"/>
</g>
<g class="sf" font-size="14.85">
<text x="381" y="56.2">DRO-PID</text>
<text x="381" y="72.9">DRO-PI</text>
<text x="381" y="91.2">SIMC-PID</text>
<text x="381" y="108.6">Panagopoulos-PID</text>
</g>
</g>
</svg>
</body></html>
